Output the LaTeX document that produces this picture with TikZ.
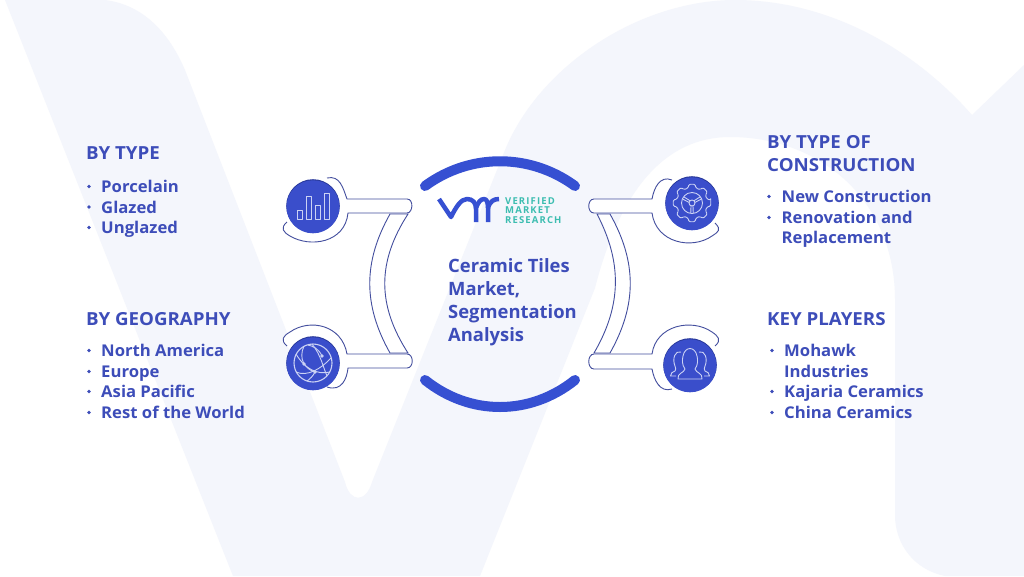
\documentclass[tikz,border=0pt]{standalone}
\usepackage{fontspec}
\setmainfont{Open Sans}
\definecolor{bgpale}{HTML}{F4F6FC}
\definecolor{inkblue}{HTML}{3D4DB9}
\definecolor{arcblue}{HTML}{3650D2}
\definecolor{hubblue}{HTML}{3A4ECB}
\definecolor{hubdark}{HTML}{2A3A9C}
\definecolor{linkblue}{HTML}{434E9E}
\definecolor{iconline}{HTML}{CBD2F4}
\definecolor{tealtxt}{HTML}{3CBDB0}
\tikzset{
  headtxt/.style={anchor=base west,inner sep=0pt,text=inkblue,font=\fontsize{18}{23}\selectfont\bfseries\addfontfeature{FakeStretch=1.04}},
  itemtxt/.style={anchor=base west,inner sep=0pt,text=inkblue,font=\fontsize{16.2}{20}\selectfont\bfseries\addfontfeature{FakeStretch=1.03}},
  titletxt/.style={anchor=base west,inner sep=0pt,text=inkblue,font=\fontsize{18.4}{23}\selectfont\bfseries},
  dotbullet/.style={circle,fill=inkblue,inner sep=0pt,minimum size=3.8pt},
  hubdisc/.style={circle,fill=hubblue,inner sep=0pt,minimum size=53pt},
  linkline/.style={draw=linkblue,fill=white,line width=.9pt},
  icon/.style={draw=iconline,line width=.9pt,line join=round},
  bigarc/.style={draw=arcblue,line width=10pt,line cap=round},
  logoline/.style={draw=arcblue,line width=4.5pt,line join=round},
  logotxt/.style={anchor=base west,inner sep=0pt,text=tealtxt,font=\fontsize{9.5}{10}\selectfont\bfseries\addfontfeature{LetterSpace=12}}
}
\begin{document}
\begin{tikzpicture}[x=1pt,y=-1pt]
\useasboundingbox (0,0) rectangle (1024,576);
\fill[white] (0,0) rectangle (1024,576);
% pale background letters
\fill[bgpale] (5,0) -- (105,0) .. controls (145,5) and (170,35) .. (185,70)
  -- (345,482) .. controls (350,503) and (366,503) .. (372,482)
  -- (505,150) .. controls (540,65) and (640,0) .. (735,0)
  .. controls (830,0) and (915,50) .. (972,115) -- (1024,65)
  -- (1024,576) -- (945,576) .. controls (915,570) and (895,545) .. (895,515)
  -- (895,300) .. controls (895,200) and (820,137) .. (730,137)
  .. controls (665,137) and (620,190) .. (595,288) -- (480,576) -- (233,576) -- cycle;
% arms
\draw[linkline] (390,214) .. controls (363,262) and (363,305) .. (390,353)
  -- (408,353) .. controls (377,305) and (377,262) .. (408,214) -- cycle;
\draw[linkline] (597,214) .. controls (622,262) and (622,305) .. (594,353)
  -- (610,353) .. controls (637,305) and (637,262) .. (610,214) -- cycle;
% brackets
\draw[linkline] (287,222) .. controls (280,228) and (283,232) .. (290,236)
  .. controls (310,248) and (345,243) .. (348,213) -- (407,213)
  .. controls (413,213) and (414,199) .. (407,199) -- (347,199)
  .. controls (343,188) and (340,175) .. (327,178);
\draw[linkline] (287,346) .. controls (280,340) and (283,336) .. (290,332)
  .. controls (310,318) and (342,325) .. (347,354) -- (407,354)
  .. controls (414,354) and (414,368) .. (407,368) -- (348,368)
  .. controls (347,378) and (342,392) .. (327,387);
\draw[linkline] (715,223) .. controls (722,230) and (718,232) .. (712,236)
  .. controls (692,250) and (656,243) .. (652,213) -- (594,213)
  .. controls (587,213) and (587,199) .. (594,199) -- (652,199)
  .. controls (654,188) and (660,175) .. (672,180);
\draw[linkline] (715,346) .. controls (722,340) and (718,336) .. (712,332)
  .. controls (692,318) and (656,325) .. (652,354) -- (594,354)
  .. controls (587,354) and (587,369) .. (594,369) -- (652,369)
  .. controls (654,380) and (660,393) .. (672,389);
% big arcs
\draw[bigarc] (425,186) .. controls (470,153) and (530,153) .. (575,186);
\draw[bigarc] (425,380) .. controls (470,416) and (530,416) .. (575,380);
% hubs
\foreach \nm/\xx/\yy in {hubtype/313/206,hubgeo/313/363,hubcons/692/203,hubplay/690/365}{
  \fill[hubdark] (\xx,\yy) circle (26.8);
  \node[hubdisc] (\nm) at (\xx,\yy+.8) {};
}
% bars icon
\foreach \xa/\xb/\yt in {297/302/210,306/311/196,315/320/205,324/329/193}{
  \draw[icon] (\xa,\yt) rectangle (\xb,219);
}
% gear icon
\begin{scope}[shift={(692,203)}]
  \draw[icon,rounded corners=1.2pt] (-9:19)
    \foreach \a in {0,45,...,315}{ -- (\a-9:19) -- (\a+9:19) -- (\a+15:15.5) -- (\a+30:15.5) } -- cycle;
  \draw[icon] (0,0) circle (10.5);
  \draw[icon] (0,0) circle (3);
  \foreach \a in {90,210,330}{
    \draw[icon] (\a-18:3.2) -- (\a-7:10.3);
    \draw[icon] (\a+18:3.2) -- (\a+7:10.3);
  }
\end{scope}
% globe icon
\begin{scope}[shift={(313,363)}]
  \draw[icon,line width=1.1pt] (0,0) circle (19);
  \draw[icon] (-17,-9) .. controls (-8,6) and (4,12) .. (17,9);
  \draw[icon] (-1,-19) .. controls (8,-8) and (10,4) .. (14,13);
  \draw[icon] (-17,9) .. controls (-6,14) and (8,6) .. (18,-5);
  \draw[icon] (-9,-17) .. controls (-15,-4) and (-8,6) .. (2,9);
  \draw[icon] (-5,-18) .. controls (0,-17) and (6,-14) .. (9,-7);
  \draw[icon] (2,9) .. controls (0,13) and (-3,16) .. (-6,18);
  \foreach \xx/\yy in {9/-7,2/9,-9/1}{ \fill[iconline] (\xx,\yy) circle (1.8); }
\end{scope}
% people icon
\begin{scope}[shift={(690,365)}]
  \draw[icon] (-12,14) -- (12,14) .. controls (13,8) and (6,8) .. (5,4)
    .. controls (8,0) and (8,-5) .. (7,-9) .. controls (5,-19) and (-5,-19) .. (-7,-9)
    .. controls (-8,-5) and (-8,0) .. (-5,4) .. controls (-6,8) and (-13,8) .. (-12,14) -- cycle;
  \draw[icon] (-9,-13) .. controls (-15,-15) and (-18,-6) .. (-15,1)
    .. controls (-14,3) and (-14,5) .. (-15,6) .. controls (-17,7) and (-20,8) .. (-19.5,11) -- (-14,11);
  \draw[icon] (9,-13) .. controls (15,-15) and (18,-6) .. (15,1)
    .. controls (14,3) and (14,5) .. (15,6) .. controls (17,7) and (20,8) .. (19.5,11) -- (14,11);
\end{scope}
% logo
\draw[logoline] (439,199) -- (451,217) .. controls (456,207) and (461,199) .. (467,199)
  .. controls (473,199) and (476,203) .. (476,209) -- (476,222);
\draw[logoline] (476,208) .. controls (478,202) and (481,199) .. (484,199)
  .. controls (487,199) and (488,203) .. (488,208) -- (488,222);
\draw[logoline] (488,208) .. controls (490,201) and (494,199) .. (499,199);
\node[logotxt] (logoa) at (505,204) {VERIFIED};
\node[logotxt] (logob) at (505,213.5) {MARKET};
\node[logotxt] (logoc) at (505,223) {RESEARCH};
% centre title
\node[titletxt] (titlea) at (448,272.5) {Ceramic Tiles};
\node[titletxt] (titleb) at (448,295.5) {Market,};
\node[titletxt] (titlec) at (448,318.5) {Segmentation};
\node[titletxt] (titled) at (448,341.5) {Analysis};
% headings
\node[headtxt] (headtype) at (86,159) {BY TYPE};
\node[headtxt] (headgeo) at (86,325) {BY GEOGRAPHY};
\node[headtxt] (headcons) at (767,148) {BY TYPE OF};
\node[headtxt] (headconsb) at (767,171) {CONSTRUCTION};
\node[headtxt] (headplay) at (767,325) {KEY PLAYERS};
% lists
\foreach \nm/\bx/\tx/\yy/\lab in {%
  porc/89/101/192.5/Porcelain,glaz/89/101/213/Glazed,ungl/89/101/233.5/Unglazed,%
  nam/89/101/356.5/North America,eur/89/101/377.5/Europe,apac/89/101/397.5/Asia Pacific,row/89/101/418.5/Rest of the World,%
  newc/769/781.5/202.5/New Construction,reno/769/781.5/223.5/Renovation and,%
  moha/772/784/356.5/Mohawk,kaja/772/784/397.5/Kajaria Ceramics,chin/772/784/418.5/China Ceramics}{
  \node[itemtxt] (\nm) at (\tx,\yy) {\lab};
  \node[dotbullet] (\nm dot) at (\bx,\yy-6) {};
}
\node[itemtxt] (repl) at (781.5,243.5) {Replacement};
\node[itemtxt] (indu) at (784,377.5) {Industries};
\end{tikzpicture}
\end{document}
